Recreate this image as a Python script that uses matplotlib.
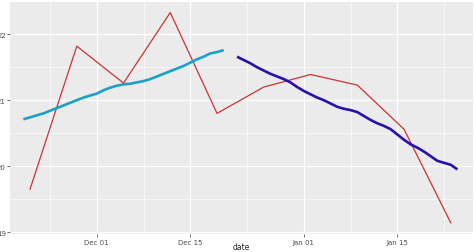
import numpy as np
import pandas as pd
import matplotlib
matplotlib.use("Agg")
import matplotlib.pyplot as plt

# weekly series (thin red)
weekly_dates = pd.date_range("2016-11-21", periods=10, freq="7D")
weekly_vals = [19.65, 21.82, 21.26, 22.33, 20.80, 21.20, 21.39, 21.23, 20.56, 19.14]

# daily smoothed series, first part (cyan)
cyan_dates = pd.date_range("2016-11-20", periods=31, freq="D")
cyan_vals = [20.71, 20.74, 20.77, 20.80, 20.84, 20.88, 20.92, 20.96, 21.00, 21.04,
             21.07, 21.10, 21.15, 21.19, 21.22, 21.24, 21.25, 21.27, 21.29, 21.32,
             21.36, 21.40, 21.44, 21.48, 21.52, 21.57, 21.62, 21.66, 21.71, 21.73,
             21.76]

# daily smoothed series, second part (dark blue)
blue_dates = pd.date_range("2016-12-22", periods=34, freq="D")
blue_vals = [21.66, 21.61, 21.56, 21.50, 21.45, 21.40, 21.36, 21.32, 21.27, 21.20,
             21.14, 21.09, 21.04, 21.00, 20.95, 20.90, 20.87, 20.85, 20.82, 20.76,
             20.70, 20.65, 20.61, 20.56, 20.48, 20.40, 20.33, 20.28, 20.22, 20.15,
             20.08, 20.05, 20.02, 19.95]

major_ticks = pd.to_datetime(["2016-12-01", "2016-12-15", "2017-01-01", "2017-01-15"])
major_labels = ["Dec 01", "Dec 15", "Jan 01", "Jan 15"]
minor_ticks = pd.to_datetime(["2016-11-24 00:00", "2016-12-08 00:00", "2016-12-23 12:00",
                              "2017-01-08 00:00", "2017-01-22 00:00"])
y_ticks = [19, 20, 21, 22]

fig = plt.figure(figsize=(4.74, 2.53), dpi=100)
ax = fig.add_axes([10 / 474, 18 / 253, 463 / 474, 232 / 253])
ax.set_facecolor("#EBEBEB")
for s in ax.spines.values():
    s.set_visible(False)

ax.set_xticks(major_ticks)
ax.set_xticklabels(major_labels)
ax.set_xticks(minor_ticks, minor=True)
ax.set_yticks(y_ticks)
ax.set_yticks([19.5, 20.5, 21.5, 22.5], minor=True)
ax.grid(which="major", color="white", lw=0.9)
ax.grid(which="minor", color="white", lw=0.45)
ax.set_axisbelow(True)
ax.tick_params(which="major", length=2, width=0.5, color="#333333",
               labelsize=5, labelcolor="#4D4D4D", pad=1.5)
ax.tick_params(axis="y", pad=1)
ax.tick_params(which="minor", length=0)

ax.plot(weekly_dates, weekly_vals, color="#CC3333", lw=0.9)
ax.plot(cyan_dates, cyan_vals, color="#1BA0C8", lw=1.9, solid_capstyle="butt")
ax.plot(blue_dates, blue_vals, color="#2A10A8", lw=1.9, solid_capstyle="butt")

ax.set_xlim(pd.Timestamp("2016-11-18"), pd.Timestamp("2017-01-26 08:00"))
ax.set_ylim(18.97, 22.49)
ax.set_xlabel("date", fontsize=5.5, color="#222222")
ax.xaxis.set_label_coords(0.5, -0.035)

fig.savefig("out.png", dpi=100)
